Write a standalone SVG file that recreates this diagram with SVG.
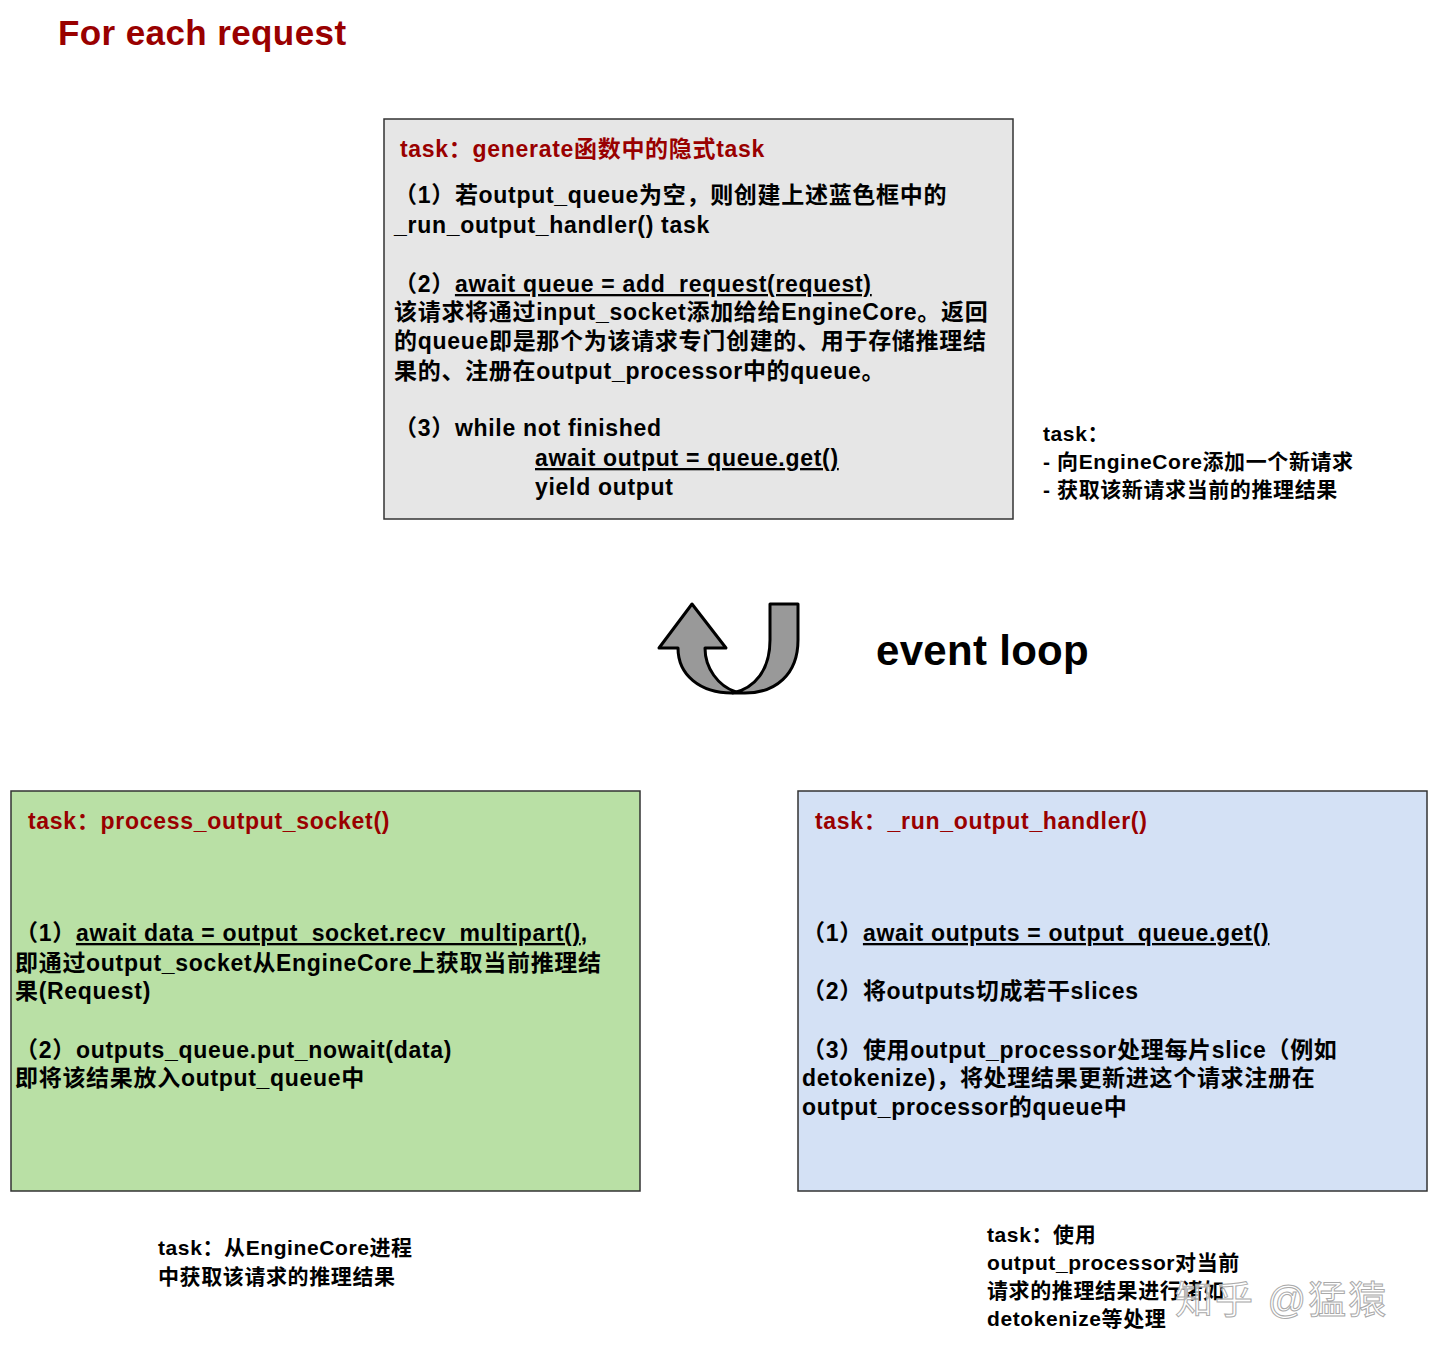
<svg xmlns="http://www.w3.org/2000/svg" width="1440" height="1361" viewBox="0 0 1440 1361">
<style>
text{font-family:"Liberation Sans","Noto Sans CJK SC",sans-serif;font-weight:bold;font-size:23px;fill:#000;letter-spacing:0.7px}
.t{fill:#990000}
.u{text-decoration:underline}
.s{font-size:21px;letter-spacing:0.6px}
.box{stroke:#333;stroke-width:1.5}
.arr{fill:#999;stroke:#000;stroke-width:3;stroke-linejoin:round}
</style>
<rect width="1440" height="1361" fill="#fff"/>
<text x="58" y="45" class="t" style="font-size:35px;letter-spacing:0.4px">For each request</text>
<g id="generate">
<rect class="box" x="384" y="119" width="629" height="400" fill="#e6e6e6"/>
<text x="400" y="157" class="t">task：generate函数中的隐式task</text>
<text x="394" y="203">（1）若output_queue为空，则创建上述蓝色框中的</text>
<text x="394" y="233">_run_output_handler() task</text>
<text x="394" y="292">（2）<tspan class="u">await queue = add_request(request)</tspan></text>
<text x="394" y="320">该请求将通过input_socket添加给给EngineCore。返回</text>
<text x="394" y="349">的queue即是那个为该请求专门创建的、用于存储推理结</text>
<text x="394" y="379">果的、注册在output_processor中的queue。</text>
<text x="394" y="436">（3）while not finished</text>
<text x="535" y="466" class="u">await output = queue.get()</text>
<text x="535" y="495">yield output</text>
</g>
<g id="note-generate">
<text x="1043" y="441" class="s">task：</text>
<text x="1043" y="469" class="s">- 向EngineCore添加一个新请求</text>
<text x="1043" y="497" class="s">- 获取该新请求当前的推理结果</text>
</g>
<g id="loop">
<path class="arr" d="M770,604 L798,604 L798,640 C798,675 775,693 745,693 L733,693 C755,688 770,670 770,640 Z"/>
<path class="arr" d="M659,648 L692,604 L726,648 L705,648 C705,668 718,686 736,692 L732,693 C700,693 678,675 678,648 Z"/>
<text x="876" y="665" style="font-size:42px;letter-spacing:0.3px">event loop</text>
</g>
<g id="process">
<rect class="box" x="11" y="791" width="629" height="400" fill="#b9e0a5"/>
<text x="28" y="829" class="t">task：process_output_socket()</text>
<text x="15" y="941">（1）<tspan class="u">await data = output_socket.recv_multipart()</tspan>,</text>
<text x="15" y="971">即通过output_socket从EngineCore上获取当前推理结</text>
<text x="15" y="999">果(Request)</text>
<text x="15" y="1058">（2）outputs_queue.put_nowait(data)</text>
<text x="15" y="1086">即将该结果放入output_queue中</text>
</g>
<g id="handler">
<rect class="box" x="798" y="791" width="629" height="400" fill="#d4e1f5"/>
<text x="815" y="829" class="t">task：_run_output_handler()</text>
<text x="802" y="941">（1）<tspan class="u">await outputs = output_queue.get()</tspan></text>
<text x="802" y="999">（2）将outputs切成若干slices</text>
<text x="802" y="1058">（3）使用output_processor处理每片slice（例如</text>
<text x="802" y="1086">detokenize)，将处理结果更新进这个请求注册在</text>
<text x="802" y="1115">output_processor的queue中</text>
</g>
<g id="note-process">
<text x="158" y="1255" class="s">task：从EngineCore进程</text>
<text x="158" y="1284" class="s">中获取该请求的推理结果</text>
</g>
<g id="note-handler">
<text x="987" y="1242" class="s">task：使用</text>
<text x="987" y="1270" class="s">output_processor对当前</text>
<text x="987" y="1298" class="s">请求的推理结果进行诸如</text>
<text x="987" y="1326" class="s">detokenize等处理</text>
</g>
<text x="1175" y="1313" style="font-size:38px;font-weight:normal;letter-spacing:2px;fill:#ffffff;fill-opacity:0.75;stroke:#aaa;stroke-width:1">知乎 @猛猿</text>
</svg>
